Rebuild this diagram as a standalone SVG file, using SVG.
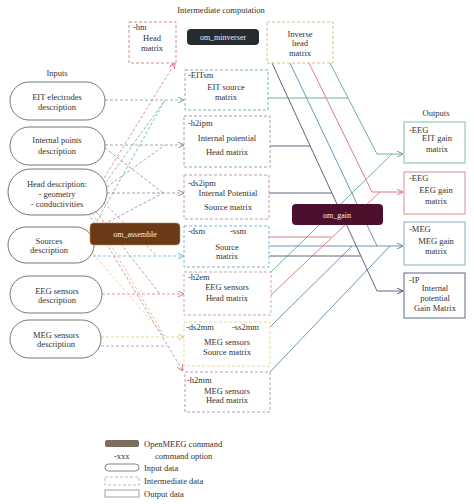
<svg xmlns="http://www.w3.org/2000/svg" width="474" height="504" viewBox="0 0 474 504">
<style>
text{font-family:"Liberation Serif","Times New Roman",serif;font-size:8.5px;fill:#333}
.c{text-anchor:middle}
.w{fill:#f2eef0;text-anchor:middle;font-size:8px}
.in{fill:#fff;stroke:#666;stroke-width:0.9}
.im{fill:#fff;stroke-width:1;stroke-dasharray:3,2}
.out{fill:#fff;stroke-width:1}
.d{fill:none;stroke-width:0.8;stroke-dasharray:3,2}
.s{fill:none;stroke-width:0.9}
</style>
<defs>
<marker id="mGreen" markerUnits="userSpaceOnUse" markerWidth="6" markerHeight="6" refX="6" refY="3" orient="auto"><path d="M0,0 L6,3 L0,6" fill="none" stroke="#6aab8e"/></marker>
<marker id="mPink" markerUnits="userSpaceOnUse" markerWidth="6" markerHeight="6" refX="6" refY="3" orient="auto"><path d="M0,0 L6,3 L0,6" fill="none" stroke="#d6788c"/></marker>
<marker id="mPurple" markerUnits="userSpaceOnUse" markerWidth="6" markerHeight="6" refX="6" refY="3" orient="auto"><path d="M0,0 L6,3 L0,6" fill="none" stroke="#a07fae"/></marker>
<marker id="mGray" markerUnits="userSpaceOnUse" markerWidth="6" markerHeight="6" refX="6" refY="3" orient="auto"><path d="M0,0 L6,3 L0,6" fill="none" stroke="#7f9a9e"/></marker>
<marker id="mBlue" markerUnits="userSpaceOnUse" markerWidth="6" markerHeight="6" refX="6" refY="3" orient="auto"><path d="M0,0 L6,3 L0,6" fill="none" stroke="#72b4d4"/></marker>
<marker id="mYellow" markerUnits="userSpaceOnUse" markerWidth="6" markerHeight="6" refX="6" refY="3" orient="auto"><path d="M0,0 L6,3 L0,6" fill="none" stroke="#e6c67a"/></marker>
<marker id="mSGreen" markerUnits="userSpaceOnUse" markerWidth="6" markerHeight="6" refX="6" refY="3" orient="auto"><path d="M0,0 L6,3 L0,6" fill="none" stroke="#5fad8a"/></marker>
<marker id="mSRed" markerUnits="userSpaceOnUse" markerWidth="6" markerHeight="6" refX="6" refY="3" orient="auto"><path d="M0,0 L6,3 L0,6" fill="none" stroke="#d8707e"/></marker>
<marker id="mSSteel" markerUnits="userSpaceOnUse" markerWidth="6" markerHeight="6" refX="6" refY="3" orient="auto"><path d="M0,0 L6,3 L0,6" fill="none" stroke="#5f8bab"/></marker>
<marker id="mSNavy" markerUnits="userSpaceOnUse" markerWidth="6" markerHeight="6" refX="6" refY="3" orient="auto"><path d="M0,0 L6,3 L0,6" fill="none" stroke="#4b5575"/></marker>
</defs>

<text class="c" x="221" y="13">Intermediate computation</text>
<text class="c" x="57" y="76">Inputs</text>
<text class="c" x="436" y="116">Outputs</text>

<g id="connectors">
  <!-- inputs to intermediates (dashed) -->
  <path class="d" stroke="#d6788c" d="M104,178 L175,63" marker-end="url(#mPink)"/>
  <path class="d" stroke="#6aab8e" d="M105,100 L184,100" marker-end="url(#mGreen)"/>
  <path class="d" stroke="#6aab8e" d="M106,182 L165,100"/>
  <path class="d" stroke="#6aab8e" d="M92,230 L165,100"/>
  <path class="d" stroke="#7f9a9e" d="M105,145 L184,145" marker-end="url(#mGray)"/>
  <path class="d" stroke="#7f9a9e" d="M107,187 L165,145"/>
  <path class="d" stroke="#a07fae" d="M105,148 L163,193"/>
  <path class="d" stroke="#a07fae" d="M107,193 L184,193" marker-end="url(#mPurple)"/>
  <path class="d" stroke="#a07fae" d="M95,229 L163,193"/>
  <path class="d" stroke="#72b4d4" d="M93,256 L184,256" marker-end="url(#mBlue)"/>
  <path class="d" stroke="#72b4d4" d="M104,203 L157,256"/>
  <path class="d" stroke="#d6788c" d="M102,294 L184,294" marker-end="url(#mPink)"/>
  <path class="d" stroke="#d6788c" d="M96,212 L160,294"/>
  <path class="d" stroke="#e6c67a" d="M101,337 L184,337" marker-end="url(#mYellow)"/>
  <path class="d" stroke="#e3b27d" d="M92,213 L165,337"/>
  <path class="d" stroke="#e6c67a" d="M90,250 L165,337"/>
  <path class="d" stroke="#c07fa8" d="M101,346 L167,346"/>
  <path class="d" stroke="#c07fa8" d="M88,213 L183,371" marker-end="url(#mPink)"/>

  <!-- intermediates to outputs (solid) -->
  <path class="s" stroke="#5fad8a" d="M330,63 L377,154 L403,154" marker-end="url(#mSGreen)"/>
  <path class="s" stroke="#5fad8a" d="M268,98 L348,98"/>
  <path class="s" stroke="#5fad8a" d="M271,272 L392,154"/>

  <path class="s" stroke="#d8707e" d="M309,63 L372,192 L403,192" marker-end="url(#mSRed)"/>
  <path class="s" stroke="#d8707e" d="M269,237 L331,237"/>
  <path class="s" stroke="#d8707e" d="M271,295 L380,192"/>

  <path class="s" stroke="#5f8bab" d="M290,63 L377,246"/>
  <path class="s" stroke="#5f8bab" d="M269,246 L403,246" marker-end="url(#mSSteel)"/>
  <path class="s" stroke="#5f8bab" d="M270,327 L352,246"/>
  <path class="s" stroke="#5f8bab" d="M270,372 L390,246"/>

  <path class="s" stroke="#4b5575" d="M272,63 L377,291 L403,291" marker-end="url(#mSNavy)"/>
  <path class="s" stroke="#4b5575" d="M270,146 L310,146"/>
  <path class="s" stroke="#4b5575" d="M269,193 L332,193"/>
  <path class="s" stroke="#4b5575" d="M269,256 L361,256"/>
</g>

<!-- Inputs -->
<g id="in_eit"><rect class="in" x="10" y="82" width="95" height="38" rx="19"/><text class="c" x="57" y="100">EIT electrodes</text><text class="c" x="57" y="110">description</text></g>
<g id="in_int"><rect class="in" x="10" y="127" width="95" height="38" rx="19"/><text class="c" x="57" y="143">Internal points</text><text class="c" x="57" y="154">description</text></g>
<g id="in_head"><rect class="in" x="8" y="169" width="99" height="46" rx="23"/><text class="c" x="57" y="187">Head description:</text><text class="c" x="57" y="197">- geometry</text><text class="c" x="57" y="207">- conductivities</text></g>
<g id="in_src"><rect class="in" x="8" y="227" width="86" height="36" rx="18"/><text class="c" x="49" y="244">Sources</text><text class="c" x="49" y="253">description</text></g>
<g id="in_eeg"><rect class="in" x="10" y="276" width="92" height="37" rx="18.5"/><text class="c" x="57" y="294">EEG sensors</text><text class="c" x="57" y="303">description</text></g>
<g id="in_meg"><rect class="in" x="10" y="320" width="91" height="38" rx="19"/><text class="c" x="56" y="338">MEG sensors</text><text class="c" x="56" y="347">description</text></g>

<g id="om_assemble"><rect x="90" y="223" width="90" height="22" rx="4" fill="#6a3a17" stroke="#b98a5e" stroke-width="0.6"/><text class="w" x="135" y="237">om_assemble</text></g>

<!-- Intermediates -->
<g id="hm"><rect class="im" stroke="#d08a98" x="129" y="22" width="47" height="41"/><text x="133" y="30">-hm</text><text class="c" x="152" y="41">Head</text><text class="c" x="152" y="51">matrix</text></g>
<g id="om_minverser"><rect x="187" y="29" width="72" height="16" rx="4" fill="#262b30"/><text class="w" x="223" y="40">om_minverser</text></g>
<g id="invhead"><rect class="im" stroke="#d9c08f" x="267" y="22" width="66" height="41"/><text class="c" x="300" y="37">Inverse</text><text class="c" x="300" y="46">head</text><text class="c" x="300" y="56">matrix</text></g>
<g id="eitsm"><rect class="im" stroke="#7fb7a0" x="185" y="70" width="83" height="40"/><text x="188" y="78">-EITsm</text><text class="c" x="226" y="90">EIT source</text><text class="c" x="226" y="100">matrix</text></g>
<g id="h2ipm"><rect class="im" stroke="#9aa4ad" x="184" y="116" width="86" height="51"/><text x="188" y="126">-h2ipm</text><text class="c" x="227" y="141">Internal potential</text><text class="c" x="227" y="155">Head matrix</text></g>
<g id="ds2ipm"><rect class="im" stroke="#c49aa8" x="184" y="175" width="85" height="44"/><text x="188" y="186">-ds2ipm</text><text class="c" x="228" y="196">Internal Potential</text><text class="c" x="228" y="210">Source matrix</text></g>
<g id="srcmat"><rect class="im" stroke="#7ab8d6" x="184" y="226" width="85" height="41"/><text x="188" y="234">-dsm</text><text x="230" y="234">-ssm</text><text class="c" x="227" y="250">Source</text><text class="c" x="227" y="259">matrix</text></g>
<g id="h2em"><rect class="im" stroke="#d9a1a8" x="184" y="272" width="87" height="43"/><text x="188" y="280">-h2em</text><text class="c" x="227" y="290">EEG sensors</text><text class="c" x="227" y="301">Head matrix</text></g>
<g id="ds2mm"><rect class="im" stroke="#ead79a" x="184" y="322" width="86" height="44"/><text x="186" y="330">-ds2mm</text><text x="232" y="330">-ss2mm</text><text class="c" x="227" y="345">MEG sensors</text><text class="c" x="227" y="355">Source matrix</text></g>
<g id="h2mm"><rect class="im" stroke="#c09ab8" x="185" y="372" width="85" height="40"/><text x="187" y="383">-h2mm</text><text class="c" x="227" y="394">MEG sensors</text><text class="c" x="227" y="403">Head matrix</text></g>

<g id="om_gain"><rect x="292" y="204" width="91" height="21" rx="4" fill="#4d0f2e"/><text class="w" x="337" y="218">om_gain</text></g>

<!-- Outputs -->
<g id="out_eit"><rect class="out" stroke="#7cbf9a" x="404" y="122" width="61" height="41"/><text x="409" y="133">-EEG</text><text class="c" x="437" y="141">EIT gain</text><text class="c" x="437" y="152">matrix</text></g>
<g id="out_eeg"><rect class="out" stroke="#d88c95" x="404" y="172" width="61" height="42"/><text x="409" y="181">-EEG</text><text class="c" x="436" y="193">EEG gain</text><text class="c" x="436" y="204">matrix</text></g>
<g id="out_meg"><rect class="out" stroke="#89acc4" x="404" y="222" width="61" height="43"/><text x="409" y="232">-MEG</text><text class="c" x="436" y="244">MEG gain</text><text class="c" x="436" y="254">matrix</text></g>
<g id="out_ip"><rect class="out" stroke="#5d6a80" x="404" y="273" width="61" height="45"/><text x="409" y="283">-IP</text><text class="c" x="435" y="291">Internal</text><text class="c" x="435" y="301">potential</text><text class="c" x="435" y="311">Gain Matrix</text></g>

<!-- Legend -->
<g id="legend">
  <rect x="105" y="440" width="34" height="7" rx="2" fill="#7b6d5e"/>
  <text x="144" y="447">OpenMEEG command</text>
  <text x="114" y="459">-xxx</text>
  <text x="155" y="459">command option</text>
  <rect x="105" y="464" width="34" height="7" rx="3.5" fill="#fff" stroke="#666" stroke-width="0.8"/>
  <text x="144" y="471">Input data</text>
  <rect x="105" y="477" width="34" height="8" fill="#fff" stroke="#aaa" stroke-width="0.8" stroke-dasharray="3,2"/>
  <text x="144" y="484">Intermediate data</text>
  <rect x="105" y="490" width="34" height="7" fill="#fff" stroke="#888" stroke-width="0.8"/>
  <text x="144" y="497">Output data</text>
</g>
</svg>
